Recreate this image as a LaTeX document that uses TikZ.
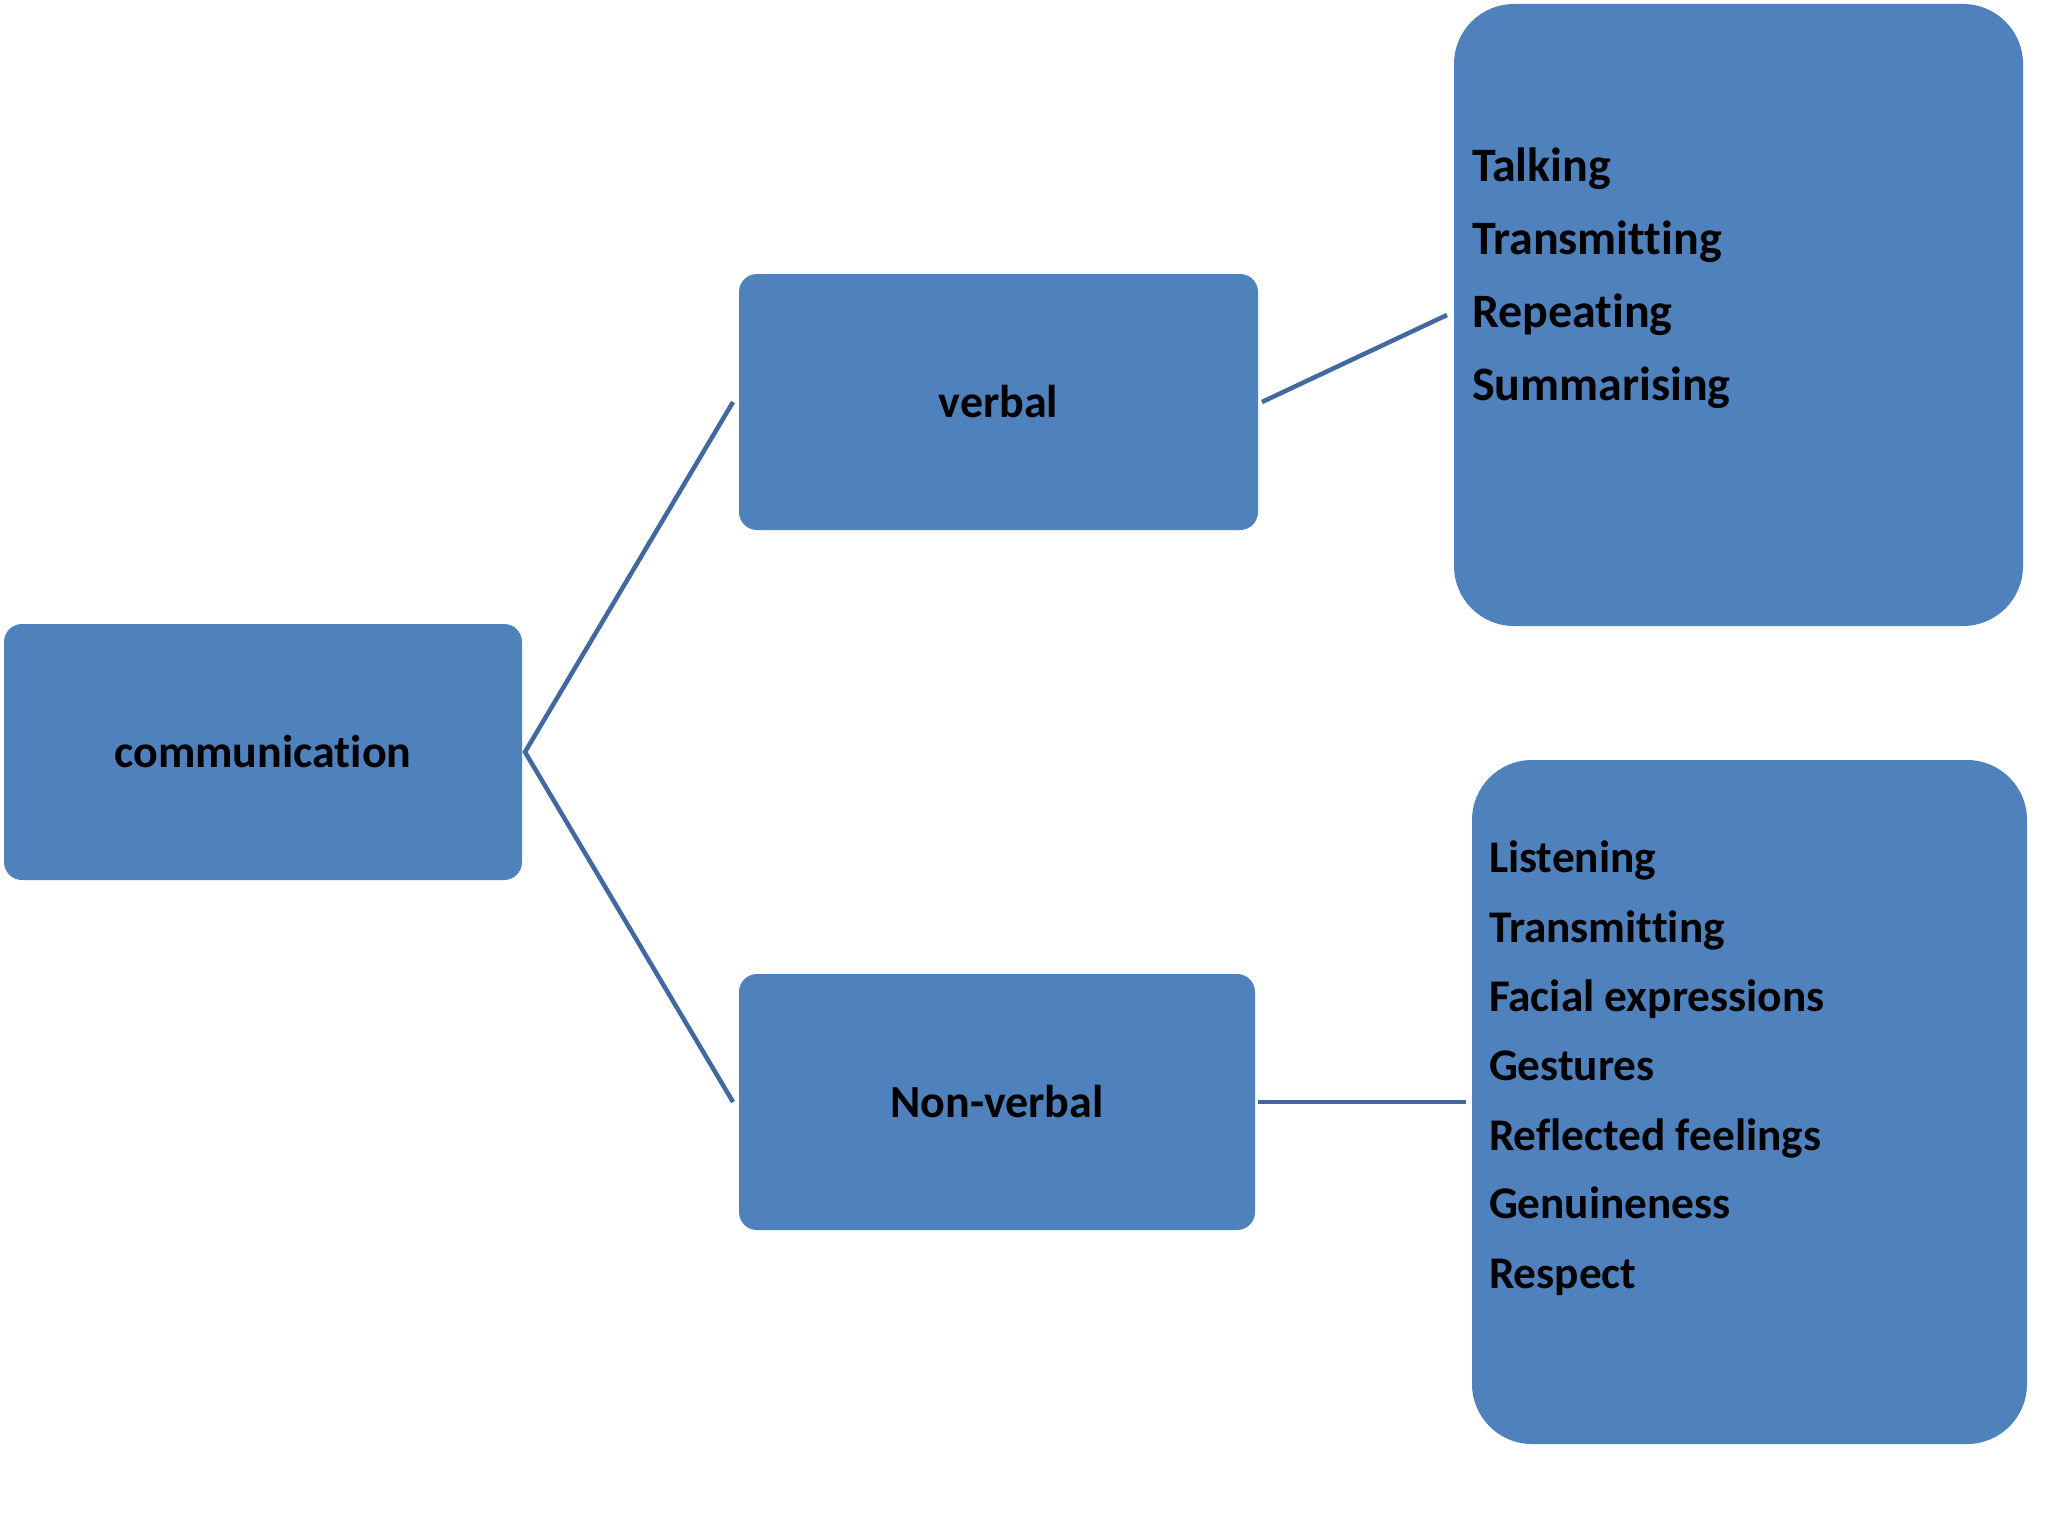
\documentclass[tikz,border=0pt]{standalone}
\usepackage{fontspec}
\setmainfont{Carlito}[Ligatures={NoCommon}]
\usetikzlibrary{calc}
\definecolor{boxblue}{HTML}{4F81BD}
\definecolor{linkblue}{HTML}{4169A0}
\begin{document}
\begin{tikzpicture}[x=1pt,y=-1pt,
  box/.style={fill=boxblue, draw=none, rounded corners=18pt, inner sep=0pt, outer sep=0pt,
    minimum height=256pt, font=\fontsize{46}{55}\selectfont\bfseries},
  bigbox/.style={fill=boxblue, draw=none, rounded corners=60pt, inner sep=0pt, outer sep=0pt},
  itemA/.style={anchor=base west, inner sep=0pt, outer sep=0pt, font=\fontsize{48}{57}\selectfont\bfseries},
  itemB/.style={anchor=base west, inner sep=0pt, outer sep=0pt, font=\fontsize{45.3}{54}\selectfont\bfseries},
  link/.style={draw=linkblue, line width=4.5pt}]
\fill[white] (0,0) rectangle (2048,1536);
\useasboundingbox (0,0) rectangle (2048,1536);

\node[box, minimum width=518pt] (comm) at (263,752) {communication};
\node[box, minimum width=519pt] (verbal) at (998.5,402) {verbal};
\node[box, minimum width=516pt] (nonverbal) at (997,1102) {Non-verbal};

\node[bigbox, minimum width=569pt, minimum height=622pt] (vlist) at (1738.5,315) {};
\node[bigbox, minimum width=555pt, minimum height=684pt] (nvlist) at (1749.5,1102) {};

\node[itemA] (v1) at (1472,181) {Talking};
\node[itemA] (v2) at (1472,254) {Transmitting};
\node[itemA] (v3) at (1472,327) {Repeating};
\node[itemA] (v4) at (1472,400) {Summarising};

\node[itemB] (n1) at (1489,872) {Listening};
\node[itemB] (n2) at (1489,942) {Transmitting};
\node[itemB] (n3) at (1489,1011) {Facial expressions};
\node[itemB] (n4) at (1489,1080) {Gestures};
\node[itemB] (n5) at (1489,1150) {Reflected feelings};
\node[itemB] (n6) at (1489,1218) {Genuineness};
\node[itemB] (n7) at (1489,1288) {Respect};

\coordinate (junction) at ($(comm.east)+(3,0)$);
\draw[link] ($(verbal.west)+(-6,0)$) -- (junction) -- ($(nonverbal.west)+(-6,0)$);
\draw[link] ($(verbal.east)+(4,0)$) -- ($(vlist.west)+(-7,0)$);
\draw[link] ($(nonverbal.east)+(3,0)$) -- ($(nvlist.west)+(-6,0)$);
\end{tikzpicture}
\end{document}
